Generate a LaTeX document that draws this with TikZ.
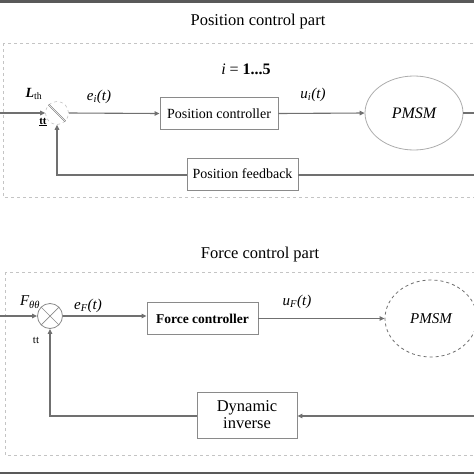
\documentclass[tikz,border=0pt]{standalone}
\usepackage{fontspec}
\setmainfont{Liberation Serif}
\usetikzlibrary{arrows.meta,shapes.geometric}
\definecolor{ln}{HTML}{707070}
\definecolor{bx}{HTML}{8A8A8A}
\definecolor{dash}{HTML}{C4C4C4}
\newcommand{\sbi}[1]{\textsubscript{\textit{#1}}}
\tikzset{
  sig/.style={draw=ln, line width=1.1pt},
  arr/.style={sig, -{Triangle[length=5pt,width=4.5pt]}},
  blk/.style={draw=bx, line width=0.9pt, fill=white, minimum height=32pt, inner sep=3pt, font=\fontsize{14}{16}\selectfont},
  motor/.style={ellipse, draw=bx!70, line width=0.8pt, fill=white, font=\fontsize{16}{18}\selectfont\itshape},
  panel/.style={draw=dash, line width=0.7pt, dashed},
  lbl/.style={font=\fontsize{15}{17}\selectfont\itshape},
  ttl/.style={font=\fontsize{16.5}{19}\selectfont},
}
\begin{document}
\begin{tikzpicture}[x=1pt,y=-1pt]
\useasboundingbox (0,0) rectangle (474,474);
\fill[white] (0,0) rectangle (474,474);
\fill[black!65] (0,0) rectangle (474,3);
\fill[black!65] (0,472) rectangle (474,474);

% ---------- Position control part ----------
\node[ttl] (t1) at (258,22) {Position control part};
\draw[panel] (3,43) rectangle (480,197);
\node[font=\fontsize{16}{18}\selectfont] (iv) at (246,69) {\textit{i} = \textbf{1...5}};

\coordinate (in1) at (0,113);
\node[circle, draw=bx!50, dashed, line width=0.6pt, minimum size=23pt, inner sep=0pt] (s1) at (57,113) {};
\draw[draw=ln, line width=1.6pt] (s1.north west) -- (s1.south east);
\draw[draw=white, line width=0.4pt] (s1.north west) -- (s1.south east);
\node[blk, minimum width=118pt] (pc) at (219,113.5) {Position controller};
\node[motor, minimum width=98pt, minimum height=74pt] (m1) at (414,113) {PMSM};
\coordinate (out1) at (474,113);
\node[blk, minimum width=111pt] (pf) at (242.5,174) {Position feedback};
\coordinate (fb1) at (474,175);

\draw[arr] (in1) -- (s1.west);
\draw[arr] (s1.east) -- (pc.west);
\draw[arr] (pc.east) -- (m1.west);
\draw[sig] (m1.east) -- (out1);
\draw[sig] (fb1) -- (pf.east |- fb1);
\draw[arr] (pf.west |- fb1) -| (s1.south);

\node[font=\fontsize{14}{16}\selectfont\bfseries\itshape] (lth) at (34,94) {L\textsubscript{\normalfont th}};
\node[lbl] (e1) at (99,97) {e\sbi{i}(t)};
\node[lbl] (u1) at (313,95) {u\sbi{i}(t)};
\node[font=\fontsize{11}{12}\selectfont\bfseries] (g1) at (43,122) {\underline{tt}};

% ---------- Force control part ----------
\node[ttl] (t2) at (260,255) {Force control part};
\draw[panel] (5,272) rectangle (480,455);

\coordinate (in2) at (0,316);
\node[circle, draw=bx, line width=0.8pt, minimum size=25pt, inner sep=0pt] (s2) at (50,316) {};
\draw[draw=bx, line width=0.7pt] (s2.north west) -- (s2.south east);
\draw[draw=bx, line width=0.7pt] (s2.north east) -- (s2.south west);
\node[blk, minimum width=111pt, font=\fontsize{13.5}{15}\selectfont\bfseries] (fc) at (202.5,318.5) {Force controller};
\node[motor, dashed, draw=ln, minimum width=92pt, minimum height=77pt, font=\fontsize{15}{17}\selectfont\itshape] (m2) at (431,318.5) {PMSM};
\node[blk, minimum width=100pt, minimum height=46pt, align=center, font=\fontsize{16.5}{17}\selectfont] (di) at (247,415) {Dynamic\\inverse};
\coordinate (fb2) at (474,416);

\draw[arr] (in2) -- (s2.west);
\draw[arr] (s2.east) -- (fc.west |- s2);
\draw[arr] (fc.east) -- (m2.west);
\draw[arr] (fb2) -- (di.east |- fb2);
\draw[arr] (di.west |- fb2) -| (s2.south);

\node[lbl] (fth) at (30,302) {F\sbi{θθ}};
\node[lbl] (e2) at (88,306) {e\sbi{F}(t)};
\node[lbl] (u2) at (297,302) {u\sbi{F}(t)};
\node[font=\fontsize{11}{12}\selectfont] (g2) at (36,340) {tt};
\end{tikzpicture}
\end{document}
